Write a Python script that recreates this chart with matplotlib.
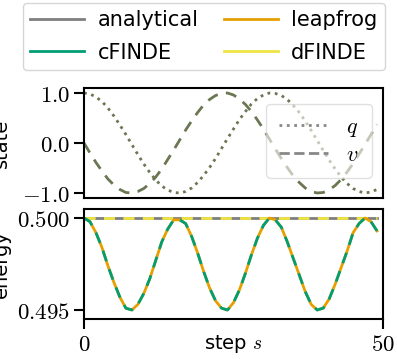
import numpy as np
import matplotlib
matplotlib.use('Agg')
import matplotlib.pyplot as plt

plt.rcParams['mathtext.fontset'] = 'cm'
plt.rcParams['font.family'] = 'DejaVu Sans'
plt.rcParams['axes.linewidth'] = 1.5

# step index
steps = np.arange(50)

# state of the oscillator
q = [1.00, 0.98, 0.92, 0.83, 0.70, 0.54, 0.36, 0.17, -0.03, -0.23,
     -0.42, -0.59, -0.74, -0.86, -0.94, -0.99, -1.00, -0.97, -0.90, -0.79,
     -0.65, -0.49, -0.31, -0.11, 0.09, 0.28, 0.47, 0.63, 0.78, 0.89,
     0.96, 1.00, 0.99, 0.95, 0.87, 0.75, 0.61, 0.44, 0.25, 0.05,
     -0.15, -0.34, -0.52, -0.68, -0.81, -0.91, -0.97, -1.00, -0.98, -0.93]
v = [0.00, -0.20, -0.39, -0.56, -0.72, -0.84, -0.93, -0.99, -1.00, -0.97,
     -0.91, -0.81, -0.68, -0.52, -0.33, -0.14, 0.06, 0.26, 0.44, 0.61,
     0.76, 0.87, 0.95, 0.99, 1.00, 0.96, 0.88, 0.77, 0.63, 0.46,
     0.28, 0.08, -0.12, -0.31, -0.49, -0.66, -0.79, -0.90, -0.97, -1.00,
     -0.99, -0.94, -0.85, -0.73, -0.58, -0.41, -0.22, -0.03, 0.17, 0.37]

# energy
e_exact = [0.5] * 50
e_leapfrog = [0.5000, 0.4998, 0.4992, 0.4984, 0.4974, 0.4965, 0.4957, 0.4951, 0.4950, 0.4953,
              0.4959, 0.4967, 0.4977, 0.4987, 0.4994, 0.4999, 0.4999, 0.4997, 0.4990, 0.4981,
              0.4971, 0.4962, 0.4955, 0.4951, 0.4950, 0.4954, 0.4961, 0.4970, 0.4980, 0.4989,
              0.4996, 0.5000, 0.4999, 0.4995, 0.4987, 0.4978, 0.4969, 0.4960, 0.4953, 0.4950,
              0.4951, 0.4956, 0.4964, 0.4973, 0.4982, 0.4992, 0.4997, 0.5000, 0.4998, 0.4993]
e_cfinde = e_leapfrog
e_dfinde = e_exact

c_ana = '#7f7f7f'
c_lf = '#e69f00'
c_cf = '#009e73'
c_df = '#f0e442'
c_state = '#6b7752'

fig = plt.figure(figsize=(3.97, 3.59), dpi=100)
ax1 = fig.add_axes([0.2116, 0.4485, 0.7531, 0.3064])
ax2 = fig.add_axes([0.2116, 0.1114, 0.7531, 0.3064])

# state
ax1.plot(steps, q, ls=':', lw=2, color=c_state)
ax1.plot(steps, v, ls='--', lw=2, color=c_state, dashes=(4, 3))
ax1.set_xlim(0, 50)
ax1.set_ylim(-1.1, 1.1)
ax1.set_yticks([1.0, 0.0, -1.0])
ax1.set_yticklabels(['$1.0$', '$0.0$', '$-1.0$'])
ax1.set_xticks([])
ax1.tick_params(axis='y', labelsize=16.5, length=7, width=1.5, pad=3)
ax1.set_ylabel('state', fontsize=14)
ax1.yaxis.set_label_coords(-0.245, 0.5)
h_q, = ax1.plot([], [], ls=':', lw=2, color='#888888', label='$q$')
h_v, = ax1.plot([], [], ls='--', lw=2, color='#888888', label='$v$')
ax1.legend(handles=[h_q, h_v], loc='center right', fontsize=16,
           handlelength=2.2, framealpha=0.6,
           bbox_to_anchor=(1.0, 0.52), borderpad=0.6, labelspacing=0.25)

# energy
ax2.plot(steps, e_exact, color=c_ana, lw=2)
ax2.plot(steps, e_dfinde, color=c_df, lw=2, ls='--', dashes=(4, 3))
ax2.plot(steps, e_leapfrog, color=c_lf, lw=2)
ax2.plot(steps, e_cfinde, color=c_cf, lw=2, ls='--', dashes=(4, 3))
ax2.set_xlim(0, 50)
ax2.set_ylim(0.49451, 0.50049)
ax2.set_yticks([0.500, 0.495])
ax2.set_yticklabels(['$0.500$', '$0.495$'])
ax2.set_xticks([0, 50])
ax2.set_xticklabels(['$0$', '$50$'])
ax2.tick_params(labelsize=16.5, length=7, width=1.5, pad=3)
ax2.set_ylabel('energy', fontsize=14)
ax2.yaxis.set_label_coords(-0.245, 0.5)
ax2.set_xlabel('step $s$', fontsize=14, va='top')
ax2.xaxis.set_label_coords(0.5, -0.125)

# column-wise fill: analytical/cFINDE then leapfrog/dFINDE
handles = [plt.Line2D([], [], color=c_ana, lw=2, label='analytical'),
           plt.Line2D([], [], color=c_cf, lw=2, label='cFINDE'),
           plt.Line2D([], [], color=c_lf, lw=2, label='leapfrog'),
           plt.Line2D([], [], color=c_df, lw=2, label='dFINDE')]
fig.legend(handles=handles, ncol=2, loc='upper center', bbox_to_anchor=(0.513, 0.992),
           fontsize=15, handlelength=2.6, columnspacing=1.2, handletextpad=0.65,
           labelspacing=0.6, borderpad=0.35, borderaxespad=0, framealpha=0.8)

fig.savefig('out.png', dpi=100)
